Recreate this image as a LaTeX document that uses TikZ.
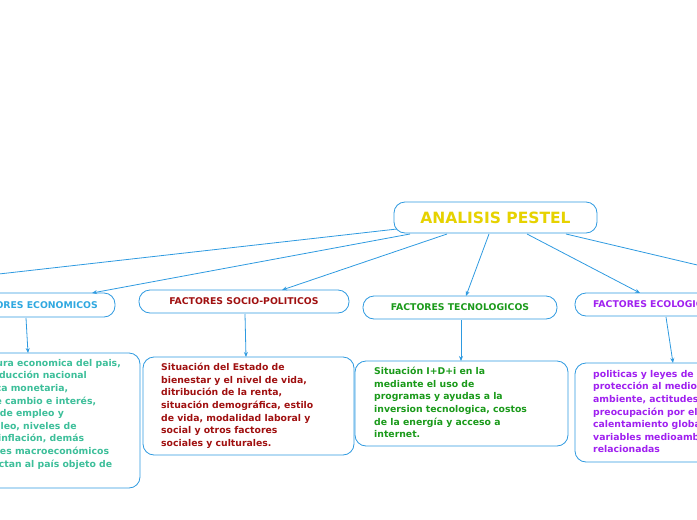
\documentclass[tikz,border=0pt]{standalone}
\usepackage{fontspec}
\setmainfont{DejaVu Sans}
\usetikzlibrary{arrows.meta}
\begin{document}
\begin{tikzpicture}[x=1pt,y=-1pt,
  box/.style={draw=#1,rounded corners=11pt,line width=0.8pt,fill=white},
  ln/.style={draw=lc,line width=0.8pt,-{Stealth[length=5pt,width=4pt]}},
  txt/.style={font=\bfseries\fontsize{9.3}{12.6}\selectfont,align=left,anchor=north west,inner sep=0pt}]
\definecolor{lc}{HTML}{2E9AE0}
\definecolor{bc}{HTML}{2E9AE0}
\definecolor{cy}{HTML}{E6D200}
\definecolor{ce}{HTML}{2FA8E0}
\definecolor{cs}{HTML}{A01010}
\definecolor{ct}{HTML}{1A9A1A}
\definecolor{cp}{HTML}{A020F0}
\definecolor{cd}{HTML}{3DBF9A}
\useasboundingbox (0,0) rectangle (697,520);
\clip (0,0) rectangle (697,520);
% boxes
\draw[box=bc] (394,202) rectangle (597,233);
\node[font=\bfseries\fontsize{15.5}{17}\selectfont,text=cy] (root) at (495.5,218) {ANALISIS PESTEL};
\draw[box=bc] (-100,293) rectangle (115,317);
\node[txt,anchor=east,text=ce] (eco) at (98,305.5) {FACTORES ECONOMICOS};
\draw[box=bc] (139,290) rectangle (349,313);
\node[txt,anchor=center,text=cs] (soc) at (244,301.5) {FACTORES SOCIO-POLITICOS};
\draw[box=bc] (363,296) rectangle (557,319);
\node[txt,anchor=center,text=ct] (tec) at (460,307.5) {FACTORES TECNOLOGICOS};
\draw[box=bc] (575,293) rectangle (800,316);
\node[txt,anchor=west,text=cp] (eol) at (593,304.5) {FACTORES ECOLOGICOS};
\draw[box=bc] (-100,353) rectangle (140,488);
\node[txt,text=cd,anchor=north east] (deco) at (121,359) {Coyuntura economica del pais,\\
y la producción nacional\\
y política monetaria,\\
tipos de cambio e interés,\\
niveles de empleo y\\
desempleo, niveles de\\
tasa deinflación, demás\\
y factores macroeconómicos\\
que afectan al país objeto de\hphantom{x}};
\draw[box=bc] (143,357) rectangle (354,455);
\node[txt,text=cs] (dsoc) at (161,363) {Situación del Estado de\\bienestar y el nivel de vida,\\ditribución de la renta,\\situación demográfica, estilo\\de vida, modalidad laboral y\\social y otros factores\\sociales y culturales.};
\draw[box=bc] (355,361) rectangle (568,446);
\node[txt,text=ct] (dtec) at (374,367) {Situación I+D+i en la\\mediante el uso de\\programas y ayudas a la\\inversion tecnologica, costos\\de la energía y acceso a\\internet.};
\draw[box=bc] (575,363) rectangle (800,462);
\node[txt,text=cp] (deol) at (593,370) {politicas y leyes de\\protección al medio\\ambiente, actitudes y\\preocupación por el\\calentamiento global,\\variables medioambientales\\relacionadas};
\coordinate (offl) at (-10,275);
\coordinate (offr) at (710,268);
% connectors
\draw[ln,-] (397,229) -- (offl);
\draw[ln] (410,234) -- (92,293);
\draw[ln] (447,234) -- (282,290);
\draw[ln] (489,234) -- (466,296);
\draw[ln] (527,234) -- (640,293);
\draw[ln,-] (566,234) -- (offr);
\draw[ln] (26,318) -- (28,353);
\draw[ln] (245,314) -- (246,357);
\draw[ln] (461,320) -- (461,361);
\draw[ln] (666,317) -- (673,363);
\end{tikzpicture}
\end{document}
